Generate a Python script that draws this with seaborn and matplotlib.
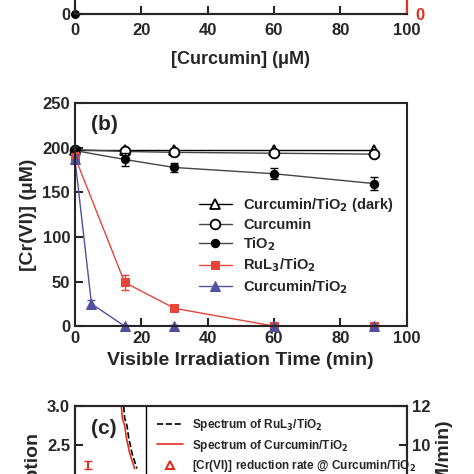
import matplotlib
matplotlib.use("Agg")
import matplotlib.pyplot as plt
import seaborn as sns
import pandas as pd

sns.set_theme(style="ticks")
plt.rcParams['font.family'] = ['Liberation Sans', 'DejaVu Sans']
plt.rcParams['font.weight'] = 'bold'

time = [0, 5, 15, 30, 60, 90]
t_dark = [0, 15, 30, 60, 90]
dark = [198, 198, 198, 198, 198]
t_cur = [0, 15, 30, 60, 90]
curcumin = [198, 196, 195, 194, 193]
t_tio2 = [0, 15, 30, 60, 90]
tio2 = [197, 187, 178, 171, 160]
tio2_err = [3, 7, 5, 6, 7]
t_ru = [0, 15, 30, 60, 90]
ru = [190, 49, 20, 0, 0]
ru_err = [5, 8, 2, 1, 1]
curtio2 = [188, 25, 0, 0, 0, 0]
curtio2_err = [4, 4, 1, 1, 1, 1]

fig = plt.figure(figsize=(4.74, 4.74), dpi=100)

# top partial panel
axa = fig.add_axes([0.158, 0.970, 0.700, 0.42])
axa.set_xlim(0, 100); axa.set_ylim(0, 100)
sns.scatterplot(x=[0], y=[0], color='black', s=50, ax=axa, zorder=5, clip_on=False)
axa.set_xticks([0, 20, 40, 60, 80, 100])
axa.set_yticks([0])
axa.tick_params(labelsize=12, direction='in', width=1.5)
axa.tick_params(axis='x', pad=6)
axa.set_xlabel('[Curcumin] (μM)', fontsize=13, fontweight='bold', labelpad=10)
axr = axa.twinx()
axr.set_ylim(0, 100); axr.set_yticks([0])
axr.tick_params(colors='#e03020', labelsize=12, direction='in', pad=6)
axr.spines['right'].set_color('#e03020')
for a in (axa, axr):
    for s in a.spines.values():
        s.set_linewidth(1.5)

# panel b
ax = fig.add_axes([0.158, 0.312, 0.700, 0.470])
df = pd.DataFrame
sns.lineplot(data=df({'t': t_dark, 'y': dark}), x='t', y='y', ax=ax, color='black', lw=1,
             marker='^', mfc='white', mec='black', mew=1.3, ms=7, label='Curcumin/TiO$_2$ (dark)', clip_on=False)
sns.lineplot(data=df({'t': t_cur, 'y': curcumin}), x='t', y='y', ax=ax, color='#444444', lw=1,
             marker='o', mfc='white', mec='black', mew=1.3, ms=7, label='Curcumin', clip_on=False)
sns.lineplot(data=df({'t': t_tio2, 'y': tio2}), x='t', y='y', ax=ax, color='#444444', lw=1,
             marker='o', mfc='black', mec='black', ms=6, label='TiO$_2$', clip_on=False)
ax.errorbar(t_tio2, tio2, yerr=tio2_err, fmt='none', ecolor='black', capsize=3, lw=1)
sns.lineplot(data=df({'t': t_ru, 'y': ru}), x='t', y='y', ax=ax, color='#e8443a', lw=1,
             marker='s', mfc='#e8443a', mec='#e8443a', ms=6, label='RuL$_3$/TiO$_2$', clip_on=False)
ax.errorbar(t_ru, ru, yerr=ru_err, fmt='none', ecolor='#e8443a', capsize=3, lw=1)
sns.lineplot(data=df({'t': time, 'y': curtio2}), x='t', y='y', ax=ax, color='#5050a0', lw=1,
             marker='^', mfc='#5050a0', mec='#5050a0', ms=7, label='Curcumin/TiO$_2$', clip_on=False)
ax.errorbar(time, curtio2, yerr=curtio2_err, fmt='none', ecolor='#5050a0', capsize=3, lw=1)
ax.set_xlim(0, 100); ax.set_ylim(0, 250)
ax.set_xticks([0, 20, 40, 60, 80, 100]); ax.set_yticks([0, 50, 100, 150, 200, 250])
ax.tick_params(labelsize=12, direction='in', width=1.5)
for s in ax.spines.values():
    s.set_linewidth(1.5)
ax.set_xlabel('Visible Irradiation Time (min)', fontsize=14, fontweight='bold')
ax.set_ylabel('[Cr(VI)] (μM)', fontsize=14, fontweight='bold')
ax.text(0.05, 0.88, '(b)', transform=ax.transAxes, fontsize=15, fontweight='bold')
ax.legend(loc='center right', bbox_to_anchor=(1.0, 0.36), frameon=False, fontsize=10.5,
          handlelength=2.2, labelspacing=0.25)

# panel c partial
axc = fig.add_axes([0.158, -0.186, 0.700, 0.329])
axc.set_xlim(0, 100); axc.set_ylim(1.0, 3.0)
sp_x = [14.0, 14.3, 15.0, 15.5, 16.5, 18]
sp_y = [3.0, 2.85, 2.75, 2.6, 2.4, 2.2]
sns.lineplot(x=[v + 0.7 for v in sp_x], y=sp_y, ax=axc, color='black', ls='--', lw=1.2,
             sort=False, label='Spectrum of RuL$_3$/TiO$_2$')
sns.lineplot(x=sp_x, y=sp_y, ax=axc, color='#e03020', lw=1.2, sort=False,
             label='Spectrum of Curcumin/TiO$_2$')
axc.plot([], [], '^', mfc='white', mec='#e03020', mew=1.5, label='[Cr(VI)] reduction rate @ Curcumin/TiO$_2$')
axc.plot([], [], 's', mfc='white', mec='black', mew=1.5, label='[Cr(VI)] reduction rate @ RuL$_3$/TiO$_2$')
axc.errorbar([4], [2.25], yerr=[0.05], fmt='none', ecolor='#e03020', capsize=3)
axc.axvline(21.5, color='black', lw=1)
axc.legend(loc='upper left', bbox_to_anchor=(0.215, 1.0), frameon=False, fontsize=8.5,
           handlelength=2.2, labelspacing=0.4)
axc.set_xticks([])
axc.set_yticks([1.5, 2.0, 2.5, 3.0]); axc.set_yticklabels(['1.5', '2.0', '2.5', '3.0'])
axc.tick_params(labelsize=12, direction='in', width=1.5)
axc.text(0.05, 0.82, '(c)', transform=axc.transAxes, fontsize=15, fontweight='bold')
axc.set_ylabel('Absorption', fontsize=14, fontweight='bold')
axc2 = axc.twinx()
axc2.set_ylim(4, 12); axc2.set_yticks([6, 8, 10, 12])
axc2.tick_params(labelsize=12, direction='in', width=1.5)
axc2.set_ylabel('Rate (μM/min)', fontsize=14, fontweight='bold')
for a in (axc, axc2):
    for s in a.spines.values():
        s.set_linewidth(1.5)

fig.savefig('out.png', dpi=100)
